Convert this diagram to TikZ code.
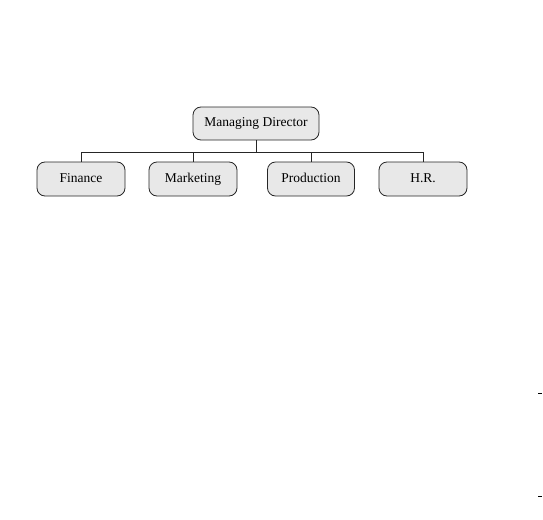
\documentclass[tikz,border=0pt]{standalone}
\usepackage{fontspec}
\setmainfont{Liberation Serif}
\usepackage{tikz}
\usetikzlibrary{shapes}

\definecolor{boxgray}{HTML}{E8E8E8}

\begin{document}
\begin{tikzpicture}[x=1pt,y=-1pt,
  unit/.style={draw=black!85,fill=boxgray,rounded corners=8pt,line width=0.8pt,
    minimum height=34pt,inner sep=0pt,text height=8pt,text depth=2pt,
    font=\fontsize{13.5}{15}\selectfont}]
\useasboundingbox (0,0) rectangle (543,519);
\node[unit,minimum width=126pt,minimum height=33pt] (md) at (256,123.5) {Managing Director};
\node[unit,minimum width=88pt] (fin) at (81,179) {Finance};
\node[unit,minimum width=88pt] (mkt) at (193,179) {Marketing};
\node[unit,minimum width=87pt] (prod) at (311,179) {Production};
\node[unit,minimum width=88pt] (hr) at (423,179) {H.R.};
\coordinate (bus) at (0,152);
\draw[black!85,line width=0.8pt] (md.south) -- (md.south |- bus);
\draw[black!85,line width=0.8pt] (fin.north) -- (fin.north |- bus) -- (hr.north |- bus) -- (hr.north);
\draw[black!85,line width=0.8pt] (mkt.north) -- (mkt.north |- bus);
\draw[black!85,line width=0.8pt] (prod.north) -- (prod.north |- bus);
\draw[black,line width=0.7pt] (538,393) -- (542,393);
\draw[black,line width=0.7pt] (538,496) -- (542,496);
\end{tikzpicture}
\end{document}
